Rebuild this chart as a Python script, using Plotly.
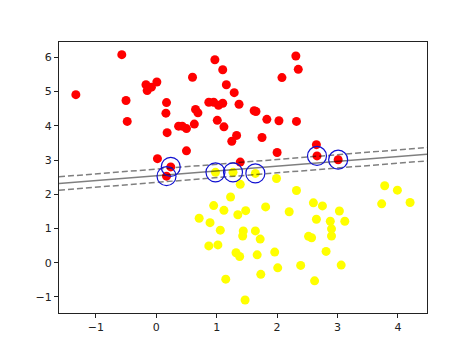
import plotly.graph_objects as go

# class 0 (red)
red_x = [-1.33, -0.57, -0.50, -0.48, -0.17, -0.15, -0.08, 0.01, 0.17, 0.16, 0.18, 0.37, 0.43, 0.50,
         0.63, 0.50, 0.02, 0.60, 0.65, 0.69, 0.87, 0.95, 0.97, 1.10, 1.16, 1.03, 1.10, 1.29, 1.37,
         1.01, 1.12, 1.33, 1.25, 1.39, 0.24, 0.17, 2.31, 2.35, 2.08, 1.62, 1.65, 1.83, 2.03, 2.32,
         1.75, 2.00, 2.65, 2.66, 3.01]
red_y = [4.91, 6.08, 4.74, 4.13, 5.20, 5.03, 5.13, 5.28, 4.68, 4.37, 3.80, 3.99, 3.99, 3.92,
         4.05, 3.27, 3.04, 5.42, 4.48, 4.38, 4.69, 4.69, 5.93, 5.64, 5.20, 4.60, 4.66, 4.97, 4.63,
         4.16, 3.97, 3.72, 3.55, 2.94, 2.80, 2.53, 6.04, 5.65, 5.41, 4.44, 4.42, 4.19, 4.15, 4.13,
         3.66, 3.22, 3.45, 3.12, 3.01]

# class 1 (yellow)
yel_x = [0.98, 1.27, 1.64, 1.39, 1.23, 0.95, 1.12, 1.48, 1.35, 0.71, 0.89, 1.06, 1.44, 1.43,
         0.87, 1.02, 1.32, 1.38, 1.15, 1.47, 1.99, 2.32, 1.81, 2.20, 2.60, 2.75, 2.65, 3.03, 3.12,
         2.88, 2.90, 2.90, 1.64, 1.72, 2.52, 2.57, 1.67, 1.96, 2.01, 1.73, 2.39, 2.81, 3.06, 2.62,
         3.78, 3.99, 3.73, 4.20]
yel_y = [2.64, 2.64, 2.61, 2.29, 1.92, 1.67, 1.53, 1.52, 1.40, 1.30, 1.17, 0.95, 0.93, 0.78,
         0.49, 0.52, 0.29, 0.18, -0.48, -1.09, 2.46, 2.11, 1.63, 1.49, 1.75, 1.66, 1.27, 1.51, 1.21,
         1.21, 0.99, 0.78, 0.93, 0.69, 0.77, 0.73, 0.23, 0.31, -0.15, -0.34, -0.08, 0.33, -0.07, -0.53,
         2.25, 2.12, 1.72, 1.76]

# support vectors
sv_x = [0.24, 0.17, 0.98, 1.27, 1.64, 2.66, 3.01]
sv_y = [2.80, 2.53, 2.64, 2.64, 2.61, 3.12, 3.01]

# decision boundary y = slope*x + intercept, margins at +/- offset
slope = 0.1404
intercept = 2.541
margin = 0.195

x_range = [-1.609, 4.48]
y_range = [-1.47, 6.45]

fig = go.Figure()
fig.add_trace(go.Scatter(x=red_x, y=red_y, mode="markers",
                         marker=dict(color="#ff0000", size=9, line=dict(width=0))))
fig.add_trace(go.Scatter(x=yel_x, y=yel_y, mode="markers",
                         marker=dict(color="#ffff00", size=9, line=dict(width=0))))

lx = x_range
for off, dash in [(-margin, "6px,3px"), (0, "solid"), (margin, "6px,3px")]:
    ly = [slope * v + intercept + off for v in lx]
    fig.add_trace(go.Scatter(x=lx, y=ly, mode="lines",
                             line=dict(color="rgba(0,0,0,0.5)", width=1.5, dash=dash)))

fig.add_trace(go.Scatter(x=sv_x, y=sv_y, mode="markers",
                         marker=dict(symbol="circle-open", color="#1010d0", size=19,
                                     line=dict(width=1.2, color="#1010d0"))))

axis_common = dict(showgrid=False, zeroline=False, showline=True, mirror=True,
                   linecolor="#222", linewidth=1, ticks="outside", ticklen=4,
                   tickwidth=1, tickcolor="#222",
                   tickfont=dict(family="DejaVu Sans", size=11, color="#222"))
fig.update_layout(
    width=474, height=352,
    margin=dict(l=59, r=47, t=42, b=39),
    paper_bgcolor="white", plot_bgcolor="white",
    showlegend=False,
    xaxis=dict(range=x_range, tickvals=[-1, 0, 1, 2, 3, 4], **axis_common),
    yaxis=dict(range=y_range, tickvals=[-1, 0, 1, 2, 3, 4, 5, 6], **axis_common),
)
fig.write_html("out.html")
